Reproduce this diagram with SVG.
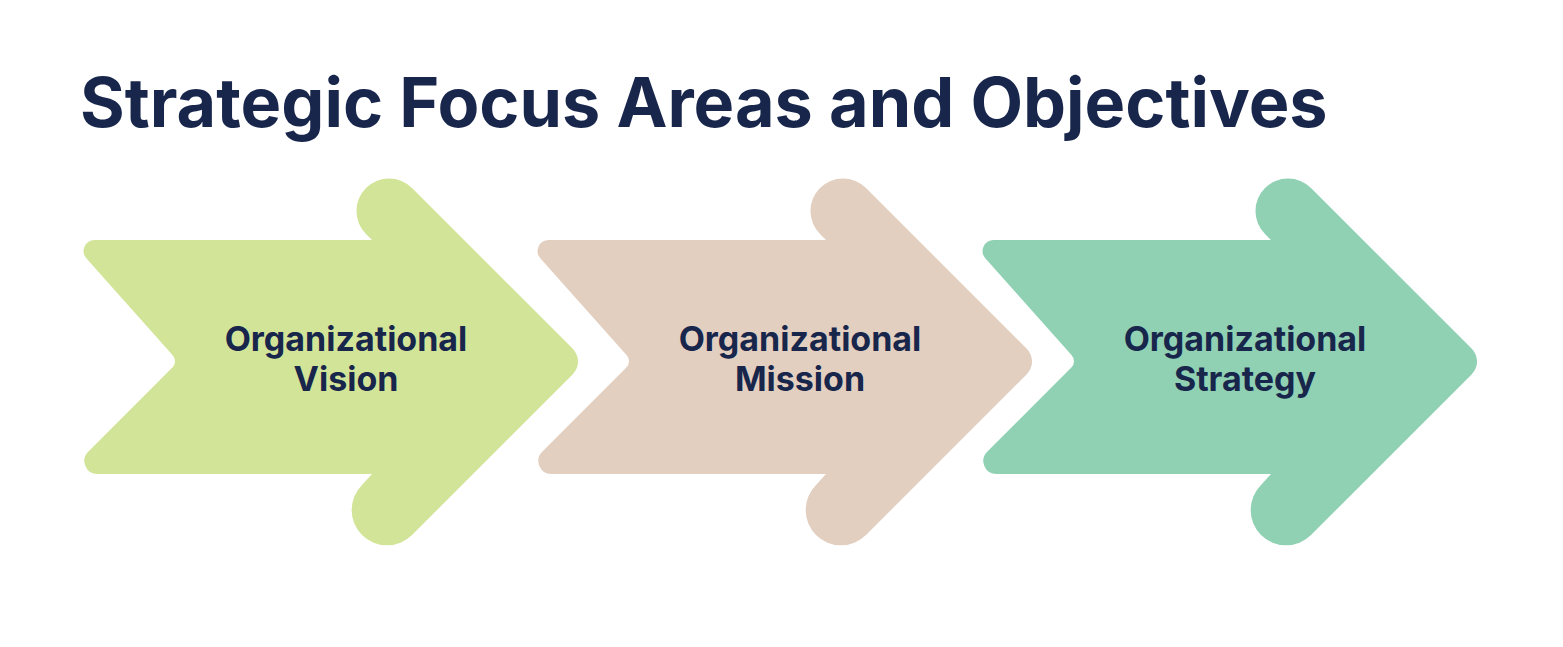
<svg xmlns="http://www.w3.org/2000/svg" width="1563" height="647" viewBox="0 0 1563 647">
<style>
  .title { font-family: Inter, "Noto Sans", "Liberation Sans", sans-serif; font-weight: 700; font-size: 68.3px; fill: #18264C; }
  .label { font-family: Inter, "Noto Sans", "Liberation Sans", sans-serif; font-weight: 700; font-size: 34px; fill: #18264C; text-anchor: middle; }
  .a1 { fill: #D2E498; }
  .a2 { fill: #E2CFC0; }
  .a3 { fill: #90D1B4; }
</style>
<defs>
  <path id="arrow" d="M94.7,240 H372 L366,234 A32.5,32.5 0 0 1 412,188 L572.8,348.8 A18,18 0 0 1 572.8,374.2 L412,535 A35,35 0 0 1 362,485 L372,474 H97.4 A13,13 0 0 1 88.2,451.8 L172.4,367.6 A9,9 0 0 0 172.7,355.3 L86.5,258.4 A11,11 0 0 1 94.7,240 Z"/>
</defs>
<rect width="1563" height="647" fill="#FFFFFF"/>
<text class="title" x="80" y="127">Strategic Focus Areas and Objectives</text>
<g id="connectors"></g>
<g id="node-vision">
  <use href="#arrow" class="a1"/>
  <text class="label" x="346" y="351">Organizational</text>
  <text class="label" x="346" y="391">Vision</text>
</g>
<g id="node-mission">
  <use href="#arrow" class="a2" transform="translate(454,0)"/>
  <text class="label" x="800" y="351">Organizational</text>
  <text class="label" x="800" y="391">Mission</text>
</g>
<g id="node-strategy">
  <use href="#arrow" class="a3" transform="translate(899,0)"/>
  <text class="label" x="1245" y="351">Organizational</text>
  <text class="label" x="1245" y="391">Strategy</text>
</g>
</svg>
